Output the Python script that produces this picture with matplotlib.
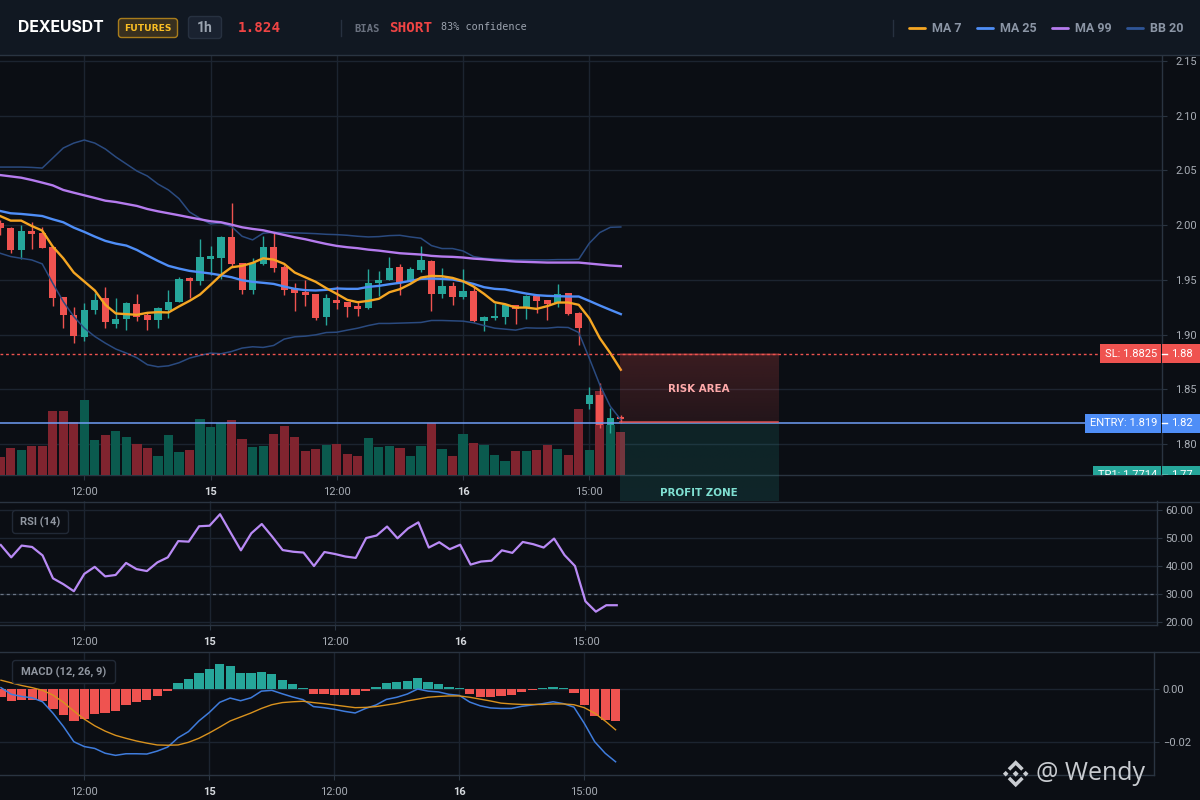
import numpy as np
import matplotlib
matplotlib.use("Agg")
import matplotlib.pyplot as plt
from matplotlib.patches import Rectangle, FancyBboxPatch, Polygon
from matplotlib.transforms import Bbox, IdentityTransform, blended_transform_factory
from matplotlib.lines import Line2D

plt.rcParams['font.family'] = ['Roboto', 'DejaVu Sans']

# ---------------- data ----------------
symbol = "DEXEUSDT"
last_price = "1.824"
time_ticks = [8, 20, 32, 44, 56]
time_labels = ["12:00", "15", "12:00", "16", "15:00"]
bold_time_labels = ["15", "16"]

opens = [2.0022,1.9973,1.9775,1.9946,1.9927,1.9800,1.9344,1.9180,1.8979,1.9225,
         1.9335,1.9098,1.9143,1.9280,1.9180,1.9134,1.9225,1.9298,1.9517,1.9490,
         1.9691,1.9700,1.9891,1.9654,1.9408,1.9645,1.9800,1.9617,1.9426,1.9389,
         1.9371,1.9161,1.9316,1.9298,1.9262,1.9243,1.9472,1.9499,1.9617,1.9481,
         1.9590,1.9672,1.9371,1.9444,1.9344,1.9398,1.9125,1.9152,1.9161,1.9271,
         1.9253,1.9353,1.9316,1.9289,1.9380,1.9198,1.8368,1.8450,1.8176,1.8249]
closes = [1.9970,1.9775,1.9946,1.9918,1.9791,1.9335,1.9180,1.8988,1.9225,1.9316,
          1.9116,1.9143,1.9289,1.9161,1.9134,1.9243,1.9298,1.9508,1.9490,1.9709,
          1.9718,1.9891,1.9645,1.9408,1.9654,1.9800,1.9608,1.9408,1.9380,1.9362,
          1.9152,1.9335,1.9289,1.9253,1.9234,1.9472,1.9499,1.9608,1.9472,1.9599,
          1.9681,1.9371,1.9444,1.9344,1.9398,1.9125,1.9161,1.9170,1.9271,1.9234,
          1.9353,1.9307,1.9280,1.9371,1.9189,1.9061,1.8450,1.8176,1.8240,1.8231]
highs = [2.0046,1.9982,2.0000,2.0028,1.9982,1.9800,1.9344,1.9253,1.9289,1.9380,
         1.9435,1.9335,1.9298,1.9371,1.9207,1.9253,1.9408,1.9526,1.9526,1.9873,
         1.9809,1.9900,2.0201,1.9654,1.9700,1.9900,1.9937,1.9636,1.9472,1.9499,
         1.9371,1.9371,1.9444,1.9298,1.9298,1.9599,1.9581,1.9709,1.9645,1.9617,
         1.9809,1.9681,1.9608,1.9481,1.9599,1.9444,1.9170,1.9289,1.9280,1.9271,
         1.9362,1.9353,1.9316,1.9462,1.9380,1.9207,1.8523,1.8559,1.8331,1.8267]
lows = [1.9909,1.9748,1.9693,1.9781,1.9791,1.9262,1.9061,1.8924,1.8943,1.9189,
        1.9061,1.9061,1.9043,1.9125,1.9043,1.9061,1.9152,1.9298,1.9335,1.9453,
        1.9544,1.9508,1.9627,1.9371,1.9371,1.9636,1.9572,1.9362,1.9216,1.9262,
        1.9134,1.9088,1.9234,1.9161,1.9170,1.9234,1.9353,1.9499,1.9362,1.9481,
        1.9572,1.9216,1.9335,1.9271,1.9326,1.9116,1.9034,1.9134,1.9098,1.9098,
        1.9143,1.9198,1.9134,1.9253,1.9180,1.8906,1.8322,1.8149,1.8103,1.8192]
volumes = [18.3,27.3,25.3,29.3,29.3,64.3,64.3,53.3,75.3,35.3,
           40.3,44.3,38.3,31.3,27.3,19.3,40.3,23.3,25.3,56.3,
           48.3,52.3,55.3,36.3,28.3,29.3,41.3,49.3,38.3,24.3,
           26.3,30.0,31.0,21.0,19.0,37.0,28.0,29.0,27.0,19.0,
           29.0,52.0,26.0,19.0,41.0,32.0,30.0,20.0,14.0,24.0,
           24.0,25.0,30.0,26.0,20.0,66.0,25.0,84.0,50.0,43.0]

ma7 = [2.0082,2.0040,2.0040,1.9991,1.9949,1.9803,1.9696,1.9566,1.9484,1.9402,
       1.9271,1.9192,1.9186,1.9180,1.9198,1.9204,1.9201,1.9256,1.9307,1.9365,
       1.9453,1.9544,1.9614,1.9627,1.9654,1.9696,1.9684,1.9645,1.9566,1.9523,
       1.9481,1.9423,1.9371,1.9316,1.9295,1.9307,1.9326,1.9386,1.9414,1.9462,
       1.9520,1.9535,1.9532,1.9517,1.9487,1.9438,1.9371,1.9295,1.9277,1.9246,
       1.9246,1.9234,1.9259,1.9292,1.9292,1.9271,1.9149,1.8967,1.8830,1.8678]
ma25 = [2.0128,2.0107,2.0101,2.0092,2.0082,2.0052,2.0025,1.9976,1.9937,1.9894,
        1.9855,1.9830,1.9812,1.9772,1.9721,1.9672,1.9627,1.9602,1.9581,1.9569,
        1.9557,1.9541,1.9523,1.9496,1.9481,1.9472,1.9462,1.9438,1.9417,1.9405,
        1.9402,1.9408,1.9420,1.9417,1.9417,1.9435,1.9444,1.9459,1.9472,1.9490,
        1.9508,1.9511,1.9508,1.9502,1.9484,1.9462,1.9432,1.9417,1.9411,1.9392,
        1.9374,1.9359,1.9353,1.9350,1.9347,1.9347,1.9307,1.9265,1.9225,1.9186]
ma99 = [2.0456,2.0444,2.0432,2.0411,2.0387,2.0362,2.0320,2.0295,2.0271,2.0247,
        2.0222,2.0210,2.0192,2.0174,2.0146,2.0125,2.0107,2.0089,2.0070,2.0052,
        2.0034,2.0025,2.0003,1.9979,1.9964,1.9952,1.9930,1.9909,1.9888,1.9870,
        1.9848,1.9827,1.9809,1.9797,1.9788,1.9775,1.9766,1.9754,1.9742,1.9736,
        1.9730,1.9718,1.9712,1.9709,1.9703,1.9693,1.9687,1.9678,1.9672,1.9666,
        1.9663,1.9660,1.9657,1.9657,1.9657,1.9657,1.9648,1.9639,1.9630,1.9624]
bb_upper = [2.0529,2.0529,2.0529,2.0526,2.0520,2.0611,2.0703,2.0748,2.0776,2.0748,
            2.0694,2.0621,2.0557,2.0493,2.0447,2.0374,2.0320,2.0241,2.0119,2.0061,
            2.0010,2.0019,1.9985,1.9897,1.9864,1.9925,1.9934,1.9931,1.9928,1.9925,
            1.9921,1.9915,1.9912,1.9906,1.9897,1.9891,1.9894,1.9903,1.9906,1.9891,
            1.9879,1.9812,1.9785,1.9785,1.9763,1.9712,1.9696,1.9690,1.9684,1.9681,
            1.9681,1.9681,1.9681,1.9684,1.9684,1.9687,1.9833,1.9931,1.9979,1.9982]
bb_lower = [1.9742,1.9712,1.9696,1.9681,1.9645,1.9468,1.9301,1.9164,1.9058,1.8982,
            1.8921,1.8867,1.8830,1.8787,1.8724,1.8705,1.8714,1.8742,1.8784,1.8809,
            1.8830,1.8824,1.8845,1.8876,1.8888,1.8882,1.8900,1.8958,1.8979,1.8985,
            1.8997,1.9018,1.9021,1.9040,1.9058,1.9082,1.9101,1.9101,1.9104,1.9107,
            1.9110,1.9128,1.9128,1.9125,1.9122,1.9107,1.9082,1.9058,1.9049,1.9040,
            1.9061,1.9058,1.9058,1.9067,1.9064,1.9018,1.8784,1.8541,1.8344,1.8222]
rsi = [47.6,43.2,47.4,46.9,43.9,35.7,33.6,31.1,37.3,39.8,
       36.4,36.9,41.2,39.0,38.3,41.4,43.2,49.0,48.8,54.3,
       54.5,58.6,52.1,45.7,51.8,55.1,50.6,45.8,45.2,44.9,
       40.1,45.1,44.4,43.5,43.0,50.1,51.0,54.2,50.0,53.5,
       55.7,46.7,48.6,46.1,47.7,40.6,41.7,42.0,45.7,44.8,
       48.7,47.9,46.7,49.9,44.0,40.1,27.5,23.8,26.1,26.1]
macd_hist = [-0.0029,-0.0044,-0.0040,-0.0040,-0.0044,-0.0074,-0.0096,-0.0119,-0.0111,-0.0093,
             -0.0089,-0.0081,-0.0059,-0.0048,-0.0040,-0.0025,-0.0006,0.0024,0.0039,0.0061,
             0.0076,0.0095,0.0088,0.0061,0.0061,0.0065,0.0058,0.0035,0.0020,0.0005,
             -0.0018,-0.0018,-0.0021,-0.0021,-0.0021,-0.0006,0.0009,0.0024,0.0028,0.0031,
             0.0043,0.0028,0.0020,0.0009,0.0005,-0.0018,-0.0029,-0.0029,-0.0025,-0.0021,
             -0.0010,-0.0003,0.0002,0.0009,0.0002,-0.0014,-0.0059,-0.0100,-0.0115,-0.0119]
macd_line = [0.0005,-0.0020,-0.0028,-0.0033,-0.0048,-0.0091,-0.0141,-0.0198,-0.0216,-0.0223,
             -0.0241,-0.0249,-0.0243,-0.0243,-0.0244,-0.0233,-0.0218,-0.0183,-0.0160,-0.0120,
             -0.0088,-0.0050,-0.0034,-0.0044,-0.0033,-0.0008,-0.0005,-0.0018,-0.0030,-0.0040,
             -0.0066,-0.0070,-0.0076,-0.0084,-0.0090,-0.0073,-0.0060,-0.0039,-0.0031,-0.0019,
             0.0000,-0.0008,-0.0011,-0.0020,-0.0024,-0.0049,-0.0063,-0.0071,-0.0073,-0.0073,
             -0.0065,-0.0060,-0.0055,-0.0048,-0.0055,-0.0068,-0.0129,-0.0198,-0.0241,-0.0273]
macd_signal = [0.0033,0.0023,0.0013,0.0005,-0.0005,-0.0023,-0.0050,-0.0083,-0.0113,-0.0138,
               -0.0158,-0.0174,-0.0185,-0.0195,-0.0203,-0.0210,-0.0211,-0.0210,-0.0200,-0.0185,
               -0.0165,-0.0143,-0.0120,-0.0105,-0.0090,-0.0073,-0.0059,-0.0051,-0.0048,-0.0046,
               -0.0051,-0.0055,-0.0060,-0.0065,-0.0070,-0.0069,-0.0066,-0.0060,-0.0054,-0.0045,
               -0.0038,-0.0031,-0.0028,-0.0026,-0.0026,-0.0031,-0.0038,-0.0045,-0.0053,-0.0056,
               -0.0058,-0.0058,-0.0058,-0.0056,-0.0056,-0.0059,-0.0070,-0.0091,-0.0120,-0.0153]

price_ticks = [1.80, 1.85, 1.90, 1.95, 2.00, 2.05, 2.10, 2.15]
rsi_ticks = [20, 30, 40, 50, 60]
macd_ticks = [0.0, -0.02]
sl_price, entry_price, tp1_price = 1.8825, 1.819, 1.7714
sl_tick, entry_tick, tp_tick = 1.88, 1.82, 1.77

# ---------------- style ----------------
BG = "#0b0e14"; HEAD = "#111822"; GRID = "#1c2430"; EDGE = "#2a3441"
UP = "#26a69a"; DOWN = "#ef5350"; VUP = "#0b5a4e"; VDOWN = "#80242f"
C7 = "#f5a623"; C25 = "#4f8ef7"; C99 = "#b57bee"; CBB = "#2a4a7f"
TXT = "#a8adb5"

fig = plt.figure(figsize=(12, 8), dpi=100, facecolor=BG)
n = len(opens)
idx = np.arange(n)


def px_axes(x0, y0, x1, y1, **kw):
    return fig.add_axes([x0 / 1200, 1 - y1 / 800, (x1 - x0) / 1200, (y1 - y0) / 800], **kw)


def xrange_for(right, spacing):
    return 8 - 84.3 / spacing, 8 + (right - 84.3) / spacing


def style_pane(ax, yticks, ylabels, bottom_px, top_px):
    ax.set_facecolor(BG)
    for s in ("top", "left"):
        ax.spines[s].set_visible(False)
    for s in ("right", "bottom"):
        ax.spines[s].set_color(EDGE)
        ax.spines[s].set_linewidth(1)
    ax.yaxis.tick_right()
    ax.set_yticks(yticks)
    ax.set_yticklabels(ylabels)
    ax.set_xticks(time_ticks)
    ax.set_xticklabels(time_labels)
    ax.tick_params(axis="both", length=3.6, width=0.8, color=EDGE, labelcolor=TXT,
                   labelsize=8, pad=2.5)
    ax.grid(True, color=GRID, linewidth=1)
    ax.set_axisbelow(True)
    for lab in ax.get_xticklabels():
        if lab.get_text() in bold_time_labels:
            lab.set_fontweight("bold")
            lab.set_color("#d5d8dd")
    clip = Bbox([[0, 800 - bottom_px - 1], [1200, 800 - top_px]])
    for lab in ax.get_yticklabels():
        lab.set_clip_box(clip)
        lab.set_clip_on(True)


# ---------- main pane ----------
main_lim = xrange_for(1162, 10.52)
price_lim = (2.0 - 250 / 1095, 2.0 + 170 / 1095)
ax = px_axes(0, 55, 1162, 475, zorder=1)
ax.set_xlim(*main_lim)
ax.set_ylim(*price_lim)
style_pane(ax, price_ticks, [f"{t:.2f}" for t in price_ticks], 475, 55)
ax.tick_params(axis="x", pad=5)
ax.tick_params(axis="y", pad=6)

ax_vol = px_axes(0, 55, 1162, 475, zorder=2)
ax_vol.patch.set_visible(False)
ax_vol.axis("off")
ax_vol.set_xlim(*main_lim)
ax_vol.set_ylim(0, 420)
vol_colors = [VUP if c >= o else VDOWN for o, c in zip(opens, closes)]
ax_vol.bar(idx, volumes, width=0.88, color=vol_colors, linewidth=0)

ax_top = px_axes(0, 55, 1162, 475, zorder=3)
ax_top.patch.set_visible(False)
ax_top.axis("off")
ax_top.set_xlim(*main_lim)
ax_top.set_ylim(*price_lim)
candle_colors = [UP if c >= o else DOWN for o, c in zip(opens, closes)]
ax_top.vlines(idx, lows, highs, colors=candle_colors, linewidth=1.0, zorder=2)
ax_top.bar(idx, np.abs(np.array(closes) - np.array(opens)),
           bottom=np.minimum(opens, closes), width=0.68,
           color=candle_colors, linewidth=0, zorder=3)
ax_top.plot(idx, bb_upper, color=CBB, lw=1.1, zorder=4)
ax_top.plot(idx, bb_lower, color=CBB, lw=1.1, zorder=4)
ax_top.plot(idx, ma99, color=C99, lw=1.7, zorder=5)
ax_top.plot(idx, ma25, color=C25, lw=1.7, zorder=5)
ax_top.plot(idx, ma7, color=C7, lw=1.7, zorder=6)
ax_top.axhline(sl_price, xmax=1100 / 1162, color=DOWN, lw=1, ls=(0, (2, 2)), zorder=6)
ax_top.axhline(entry_price, xmax=1085 / 1162, color="#6f9df5", lw=1.1, zorder=6)

# risk / profit zones
zone_x0, zone_x1 = 58.9, 73.94
zone_bottom = 2.0 - 276 / 1095


def zone(rgb, a_top, a_bot, p_top, p_bot):
    g = np.zeros((32, 1, 4))
    g[..., 0], g[..., 1], g[..., 2] = rgb
    g[..., 3] = np.linspace(a_top, a_bot, 32)[:, None]
    im = ax_top.imshow(g, extent=[zone_x0, zone_x1, p_bot, p_top], aspect="auto",
                       zorder=7, interpolation="bilinear")
    im.set_clip_on(False)


zone((239 / 255, 83 / 255, 80 / 255), 0.21, 0.11, sl_price, entry_price)
zone((38 / 255, 166 / 255, 154 / 255), 0.14, 0.16, entry_price, zone_bottom)
ax_top.set_xlim(*main_lim)
ax_top.set_ylim(*price_lim)
ax_top.plot([zone_x0, zone_x1], [sl_price, sl_price], color=DOWN, lw=1, alpha=0.55,
            zorder=8, clip_on=False)
ax_top.plot([zone_x0, zone_x1], [entry_price + 0.0009] * 2, color=DOWN, lw=1.1, alpha=0.9,
            zorder=8, clip_on=False)
zone_mid = (zone_x0 + zone_x1) / 2
ax_top.text(zone_mid, 2.0 - 164 / 1095, "RISK AREA", color="#ffaaaa", fontsize=7.4,
            fontweight="bold", family="DejaVu Sans", ha="center", va="center", zorder=9)
ax_top.text(zone_mid, 2.0 - 268 / 1095, "PROFIT ZONE", color="#7fe0d2", fontsize=7.4,
            fontweight="bold", family="DejaVu Sans", ha="center", va="center", zorder=9,
            clip_on=False)

# price tags on axis
tag_trans = blended_transform_factory(IdentityTransform(), ax.transData)
pane_clip = Bbox([[0, 800 - 475], [1200, 800 - 55]])


def tag(price, x0, color, label, tick_label):
    half = 9.5 / 1095
    for left, right in ((x0, 1161), (1162, 1200)):
        r = Rectangle((left, price - half), right - left, 2 * half, transform=tag_trans,
                      facecolor=color, edgecolor="none", zorder=20)
        fig.add_artist(r)
        r.set_clip_box(pane_clip)
        r.set_clip_on(True)
    d = Line2D([1162, 1167], [price, price], transform=tag_trans, color="white", lw=1, zorder=21)
    fig.add_artist(d)
    d.set_clip_box(pane_clip)
    d.set_clip_on(True)
    for tx, s, ha in ((1157, label, "right"), (1171, tick_label, "left")):
        t = fig.text(tx, price, s, transform=tag_trans, color="white", fontsize=8,
                     ha=ha, va="center", zorder=22)
        t.set_clip_box(pane_clip)
        t.set_clip_on(True)


tag(sl_price, 1100, DOWN, f"SL: {sl_price}", f"{sl_tick:.2f}")
tag(entry_price, 1085, "#4f8ef7", f"ENTRY: {entry_price}", f"{entry_tick:.2f}")
tag(tp1_price, 1093, UP, f"TP1: {tp1_price}", f"{tp_tick:.2f}")

# ---------- RSI pane ----------
ax_rsi = px_axes(0, 501.5, 1157, 625, zorder=1)
ax_rsi.set_xlim(*xrange_for(1157, 10.44))
ax_rsi.set_ylim(60 - (625 - 510.3) / 2.8, 60 + (510.3 - 501.5) / 2.8)
style_pane(ax_rsi, rsi_ticks, [f"{t:.2f}" for t in rsi_ticks], 625, 501.5)
ax_rsi.tick_params(axis="x", pad=5)
ax_rsi.plot(np.arange(len(rsi)), rsi, color="#b98af5", lw=1.6, zorder=4)
ax_rsi.axhline(30, color="#6b7585", lw=0.9, ls=(0, (2.5, 2.5)), zorder=3)

# ---------- MACD pane ----------
ax_macd = px_axes(0, 651.7, 1154.3, 775, zorder=1)
ax_macd.set_xlim(*xrange_for(1154.3, 10.417))
ax_macd.set_ylim(-86 / 2665, 37.3 / 2665)
style_pane(ax_macd, macd_ticks, ["0.00", "\u22120.02"], 775, 651.7)
ax_macd.tick_params(axis="x", pad=5)
hist_colors = [UP if v >= 0 else DOWN for v in macd_hist]
ax_macd.bar(np.arange(len(macd_hist)), macd_hist, width=0.89, color=hist_colors,
            linewidth=0, zorder=3)
ax_macd.plot(np.arange(len(macd_line)), macd_line, color="#3f7cdc", lw=1.1, zorder=5)
ax_macd.plot(np.arange(len(macd_signal)), macd_signal, color="#d9921e", lw=1.0, zorder=5)

# ---------- overlay chrome (pixel coordinates) ----------
ov = fig.add_axes([0, 0, 1, 1], zorder=10)
ov.patch.set_visible(False)
ov.axis("off")
ov.set_xlim(0, 1200)
ov.set_ylim(800, 0)

ov.add_patch(Rectangle((0, 0), 1200, 55, facecolor=HEAD, edgecolor="none", zorder=1))
for yy in (55, 501.5, 651.7):
    ov.plot([0, 1200], [yy, yy], color=EDGE, lw=1, zorder=2)

MONO = "DejaVu Sans Mono"
ov.text(18, 28, symbol, color="white", fontsize=11.4, fontweight="bold", family="Inter",
        va="center", ha="left", zorder=3)
ov.add_patch(FancyBboxPatch((120, 20), 56, 16, boxstyle="round,pad=0,rounding_size=1",
                            mutation_aspect=1, facecolor="#38301f", edgecolor="#b8860b",
                            lw=1, zorder=2))
ov.add_patch(FancyBboxPatch((118.5, 18.5), 59, 19, boxstyle="round,pad=0,rounding_size=3",
                            facecolor="#38301f", edgecolor="#a87c1c", lw=1, zorder=2))
ov.text(148, 28.5, "FUTURES", color="#fbbf24", fontsize=6.6, fontweight="bold",
        family="DejaVu Sans", ha="center", va="center", zorder=3)
ov.add_patch(FancyBboxPatch((188.5, 16.5), 33, 22, boxstyle="round,pad=0,rounding_size=3",
                            facecolor="#1a2230", edgecolor="#273140", lw=1, zorder=2))
ov.text(205, 28, "1h", color="#9aa3af", fontsize=10, fontweight="bold", ha="center",
        va="center", zorder=3)
ov.text(237.5, 28, last_price, color="#ef4444", fontsize=10.3, family=MONO, fontweight="bold",
        ha="left", va="center", zorder=3)
ov.plot([340.5, 340.5], [20, 36], color="#273140", lw=1, zorder=2)
ov.text(354.5, 28.5, "BIAS", color="#6b7280", fontsize=7.6, family=MONO, fontweight="bold",
        ha="left", va="center", zorder=3)
ov.text(389.5, 28, "SHORT", color="#ef4444", fontsize=10.3, family=MONO, fontweight="bold",
        ha="left", va="center", zorder=3)
ov.text(441, 27.5, "83% confidence", color="#9ca3af", fontsize=7.3, family=MONO,
        ha="left", va="center", zorder=3)

ov.plot([892.5, 892.5], [20, 36], color="#273140", lw=1, zorder=2)
legend_items = [("MA 7", C7, 909), ("MA 25", C25, 977), ("MA 99", C99, 1052), ("BB 20", "#2f5597", 1127)]
for name, col, lx in legend_items:
    ov.plot([lx, lx + 16], [27.5, 27.5], color=col, lw=2, solid_capstyle="round", zorder=3)
    ov.text(lx + 23, 28.5, name, color="#8b95a5", fontsize=9, fontweight="bold",
            ha="left", va="center", zorder=3)

# pane badges
for bx0, by0, bw, bh, label in ((12.5, 510.5, 56, 23, "RSI (14)"), (12.5, 660.5, 103, 23, "MACD (12, 26, 9)")):
    ov.add_patch(FancyBboxPatch((bx0, by0), bw, bh, boxstyle="round,pad=0,rounding_size=3",
                                facecolor=BG, edgecolor="#212936", lw=1, zorder=3))
    ov.text(bx0 + bw / 2, by0 + bh / 2 + 0.5, label, color="#9096a0", fontsize=8, fontweight="bold",
            ha="center", va="center", zorder=4)

# watermark
wm = "#c9ccd1"
cx, cy = 1015.7, 773.7
ov.add_patch(Polygon([(cx, cy - 13.5), (cx + 8, cy - 5.5), (cx + 5.5, cy - 3), (cx, cy - 8.5),
                      (cx - 5.5, cy - 3), (cx - 8, cy - 5.5)], closed=True, fc=wm, ec="none", zorder=5))
ov.add_patch(Polygon([(cx, cy + 13.5), (cx + 8, cy + 5.5), (cx + 5.5, cy + 3), (cx, cy + 8.5),
                      (cx - 5.5, cy + 3), (cx - 8, cy + 5.5)], closed=True, fc=wm, ec="none", zorder=5))
for dx, rr in ((0, 3), (-10, 2.8), (10, 2.8)):
    ov.add_patch(Polygon([(cx + dx, cy - rr), (cx + dx + rr, cy), (cx + dx, cy + rr), (cx + dx - rr, cy)],
                         closed=True, fc=wm, ec="none", zorder=5))
ov.text(1036, 774, "@ Wendy", color=wm, fontsize=18, family="Open Sans", ha="left",
        va="center", zorder=5)

fig.savefig("out.png", dpi=100, facecolor=BG)
